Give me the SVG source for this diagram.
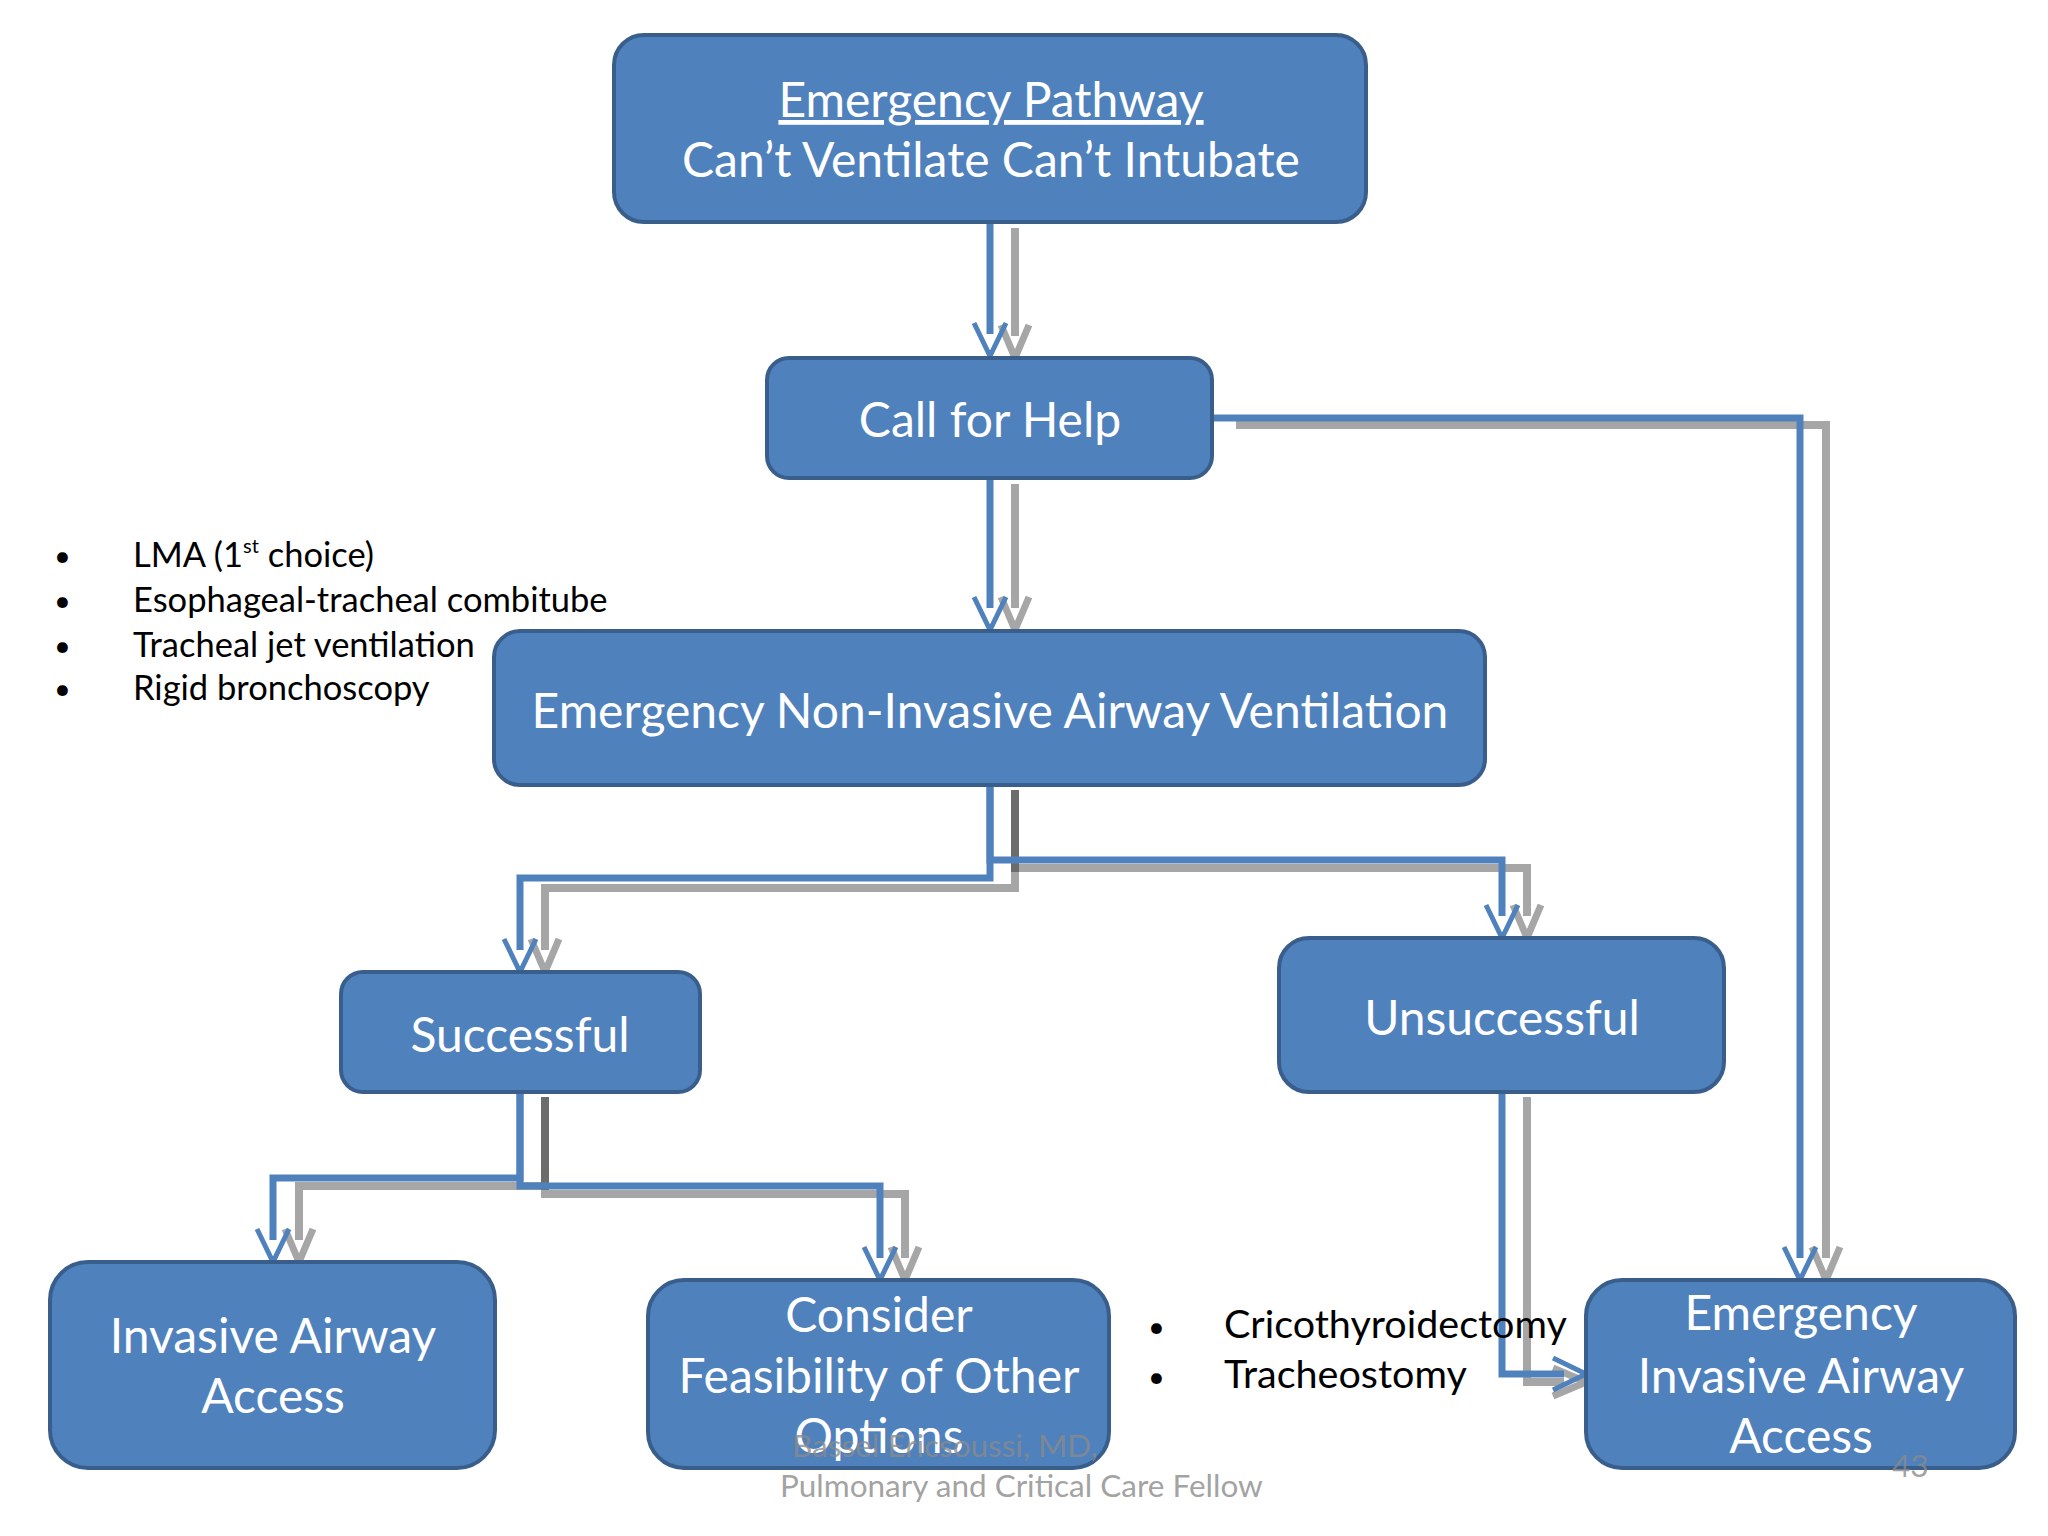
<svg xmlns="http://www.w3.org/2000/svg" width="2048" height="1536" viewBox="0 0 2048 1536">
<defs>
<style>
.box{fill:#4f81bd;stroke:#395e8c;stroke-width:4}
.bt{fill:#ffffff;font-family:Lato,"Open Sans","Liberation Sans",sans-serif;font-size:48px;text-anchor:middle}
.blue{fill:none;stroke:#4f81bd;stroke-width:7;marker-end:url(#ab)}
.gray{fill:none;stroke:#000;stroke-opacity:0.35;stroke-width:8;marker-end:url(#ag)}
.lt{fill:#000;font-family:Lato,"Open Sans","Liberation Sans",sans-serif;font-size:34.5px}
.rt{fill:#000;font-family:Lato,"Open Sans","Liberation Sans",sans-serif;font-size:39.5px}
.bl{fill:#000;font-family:Lato,"Open Sans","Liberation Sans",sans-serif;font-size:29px}
.ft{fill:#8a8a8a;fill-opacity:0.8;font-family:Lato,"Open Sans","Liberation Sans",sans-serif;font-size:31.5px}
</style>
<marker id="ab" markerUnits="userSpaceOnUse" viewBox="-20 -20 50 40" refX="0" refY="0" markerWidth="50" markerHeight="40" orient="auto">
<path d="M-11,-16 L22,0 L-11,16" fill="none" stroke="#4f81bd" stroke-width="5"/>
</marker>
<marker id="ag" markerUnits="userSpaceOnUse" viewBox="-20 -20 50 40" refX="0" refY="0" markerWidth="50" markerHeight="40" orient="auto">
<path d="M-11,-14 L22,0 L-11,14" fill="none" stroke="#000" stroke-opacity="0.35" stroke-width="7"/>
</marker>
</defs>
<rect width="2048" height="1536" fill="#ffffff"/>
<g id="connectors">
<path class="gray" d="M1015,228 V336"/>
<path class="gray" d="M1015,484 V608"/>
<path class="gray" d="M1015,790 V888 H545 V950"/>
<path class="gray" d="M1015,790 V868 H1527 V916"/>
<path class="gray" d="M1236,425 H1826 V1258"/>
<path class="gray" d="M1527,1097 V1382 H1564"/>
<path class="gray" d="M545,1097 V1186 H299 V1240"/>
<path class="gray" d="M545,1097 V1194 H905 V1258"/>
<path class="blue" d="M990,222 V334"/>
<path class="blue" d="M990,478 V608"/>
<path class="blue" d="M990,785 V878 H520 V950"/>
<path class="blue" d="M990,785 V860 H1502 V916"/>
<path class="blue" d="M1212,418 H1800 V1258"/>
<path class="blue" d="M1502,1092 V1374 H1564"/>
<path class="blue" d="M520,1092 V1178 H273 V1240"/>
<path class="blue" d="M520,1092 V1186 H880 V1258"/>
</g>
<g id="n-top">
<rect class="box" x="614" y="35" width="752" height="187" rx="30"/>
<text class="bt" x="991" y="117" text-decoration="underline">Emergency Pathway</text>
<text class="bt" x="991" y="177">Can’t Ventilate Can’t Intubate</text>
</g>
<g id="n-help">
<rect class="box" x="767" y="358" width="445" height="120" rx="22"/>
<text class="bt" x="990" y="437">Call for Help</text>
</g>
<g id="n-noninvasive">
<rect class="box" x="494" y="631" width="991" height="154" rx="26"/>
<text class="bt" x="990" y="728">Emergency Non-Invasive Airway Ventilation</text>
</g>
<g id="n-successful">
<rect class="box" x="341" y="972" width="359" height="120" rx="22"/>
<text class="bt" x="520" y="1052">Successful</text>
</g>
<g id="n-unsuccessful">
<rect class="box" x="1279" y="938" width="445" height="154" rx="30"/>
<text class="bt" x="1502" y="1035">Unsuccessful</text>
</g>
<g id="n-invasive">
<rect class="box" x="50" y="1262" width="445" height="206" rx="38"/>
<text class="bt" x="273" y="1353">Invasive Airway</text>
<text class="bt" x="273" y="1413">Access</text>
</g>
<g id="n-consider">
<rect class="box" x="648" y="1280" width="461" height="188" rx="36"/>
<text class="bt" x="879" y="1332">Consider</text>
<text class="bt" x="879" y="1393">Feasibility of Other</text>
<text class="bt" x="879" y="1453">Options</text>
</g>
<g id="n-emergency-invasive">
<rect class="box" x="1586" y="1280" width="429" height="188" rx="36"/>
<text class="bt" x="1801" y="1330">Emergency</text>
<text class="bt" x="1801" y="1393">Invasive Airway</text>
<text class="bt" x="1801" y="1453">Access</text>
</g>
<g id="left-list">
<text class="bl" x="54" y="566">•</text>
<text class="lt" x="133" y="567">LMA (1<tspan font-size="20" dy="-14">st</tspan><tspan dy="14"> choice)</tspan></text>
<text class="bl" x="54" y="611">•</text>
<text class="lt" x="133" y="612">Esophageal-tracheal combitube</text>
<text class="bl" x="54" y="656">•</text>
<text class="lt" x="133" y="657">Tracheal jet ventilation</text>
<text class="bl" x="54" y="699">•</text>
<text class="lt" x="133" y="700">Rigid bronchoscopy</text>
</g>
<g id="right-list">
<text class="bl" x="1148" y="1337" font-size="34">•</text>
<text class="rt" x="1224" y="1338">Cricothyroidectomy</text>
<text class="bl" x="1148" y="1387" font-size="34">•</text>
<text class="rt" x="1224" y="1388">Tracheostomy</text>
</g>
<g id="footer">
<text class="ft" x="792" y="1457">Bassel Ericsoussi, MD,</text>
<text class="ft" x="780" y="1497">Pulmonary and Critical Care Fellow</text>
<text class="ft" x="1892" y="1477">43</text>
</g>
</svg>
